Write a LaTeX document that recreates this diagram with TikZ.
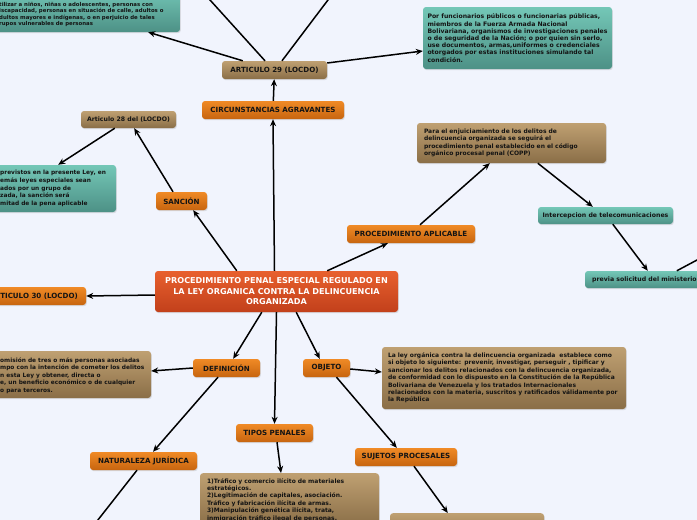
\documentclass[tikz,border=0pt]{standalone}
\usepackage{fontspec}
\setmainfont{DejaVu Sans}
\usetikzlibrary{arrows.meta,shadows}
\definecolor{bg}{HTML}{F1F4FD}
\definecolor{oT}{HTML}{F08A26}
\definecolor{oB}{HTML}{C7650F}
\definecolor{brT}{HTML}{BFA072}
\definecolor{brB}{HTML}{8A6E47}
\definecolor{tT}{HTML}{74C7B7}
\definecolor{tB}{HTML}{4D9186}
\definecolor{rT}{HTML}{E8602E}
\definecolor{rB}{HTML}{C2401B}
\definecolor{ink}{HTML}{141414}
\newcommand\fLab{\fontsize{7.1}{8}\selectfont\bfseries}
\newcommand\fBl{\fontsize{6.2}{7}\selectfont\bfseries}
\newcommand\fSm{\fontsize{6.0}{7.4}\selectfont\bfseries}
\newcommand\fRt{\fontsize{6.15}{7.2}\selectfont\bfseries}
\newcommand\fTl{\fontsize{5.4}{6.45}\selectfont\bfseries}
\newcommand\fLt{\fontsize{5.85}{7.6}\selectfont\bfseries}
\newcommand\fCtr{\fontsize{8.1}{10.5}\selectfont\bfseries}
\tikzset{
  box/.style={rounded corners=3pt, inner sep=0pt, text=ink,
    drop shadow={opacity=0.22, shadow xshift=0.8pt, shadow yshift=-1.2pt}},
  obox/.style={box, top color=oT, bottom color=oB, minimum height=18pt, font=\fLab},
  brbox/.style={box, top color=brT, bottom color=brB},
  tbox/.style={box, top color=tT, bottom color=tB},
  blab/.style={brbox, minimum height=18pt, font=\fBl},
  tlab/.style={tbox, minimum height=17pt, font=\fBl},
  cbox/.style={box, top color=rT, bottom color=rB, text=white, font=\fCtr, align=center},
  txt/.style={inner sep=0pt, align=left, text=ink},
  arr/.style={-{Stealth[length=7pt,width=6pt]}, line width=1.5pt, black},
  ln/.style={line width=1.5pt, black}
}
\begin{document}
\begin{tikzpicture}[x=1pt,y=-1pt]
\useasboundingbox[fill=bg] (0,0) rectangle (697,520);

% top-left teal box (clipped)
\node[tbox, minimum width=220pt, minimum height=44pt] (tl) at (70,10) {};
\node[txt, font=\fTl, anchor=west] (tltxt) at (-1,14.5) {tilizar a niños, niñas o adolescentes, personas con\\iscapacidad, personas en situación de calle, adultos o\\dultos mayores e indígenas, o en perjuicio de tales\\rupos vulnerables de personas};

\node[brbox, minimum height=18pt, font=\fLab, minimum width=105pt] (art29) at (274.5,70) {ARTICULO 29 (LOCDO)};

\node[tbox, inner xsep=4pt, minimum width=189pt, minimum height=62pt, align=left, font=\fRt] (rt) at (517.5,38) {Por funcionarios públicos o funcionarias públicas,\\miembros de la Fuerza Armada Nacional\\Bolivariana, organismos de investigaciones penales\\o de seguridad de la Nación; o por quien sin serlo,\\use documentos, armas,uniformes o credenciales\\otorgados por estas instituciones simulando tal\\condición.};

\node[obox, minimum width=142pt] (circ) at (273,110) {CIRCUNSTANCIAS AGRAVANTES};

\node[cbox, minimum width=243pt, minimum height=41pt] (center) at (276.5,291.5) {PROCEDIMIENTO PENAL ESPECIAL REGULADO EN\\LA LEY ORGANICA CONTRA LA DELINCUENCIA\\ORGANIZADA};

\node[obox, minimum width=51pt] (sancion) at (181.5,201) {SANCIÓN};
\node[blab, minimum width=95pt, minimum height=17pt] (art28) at (128.5,119.5) {Articulo 28 del (LOCDO)};

\node[tbox, minimum width=176pt, minimum height=47pt] (lt) at (28,188.5) {};
\node[txt, font=\fLt, anchor=west] (lttxt) at (0,188.5) {previstos en la presente Ley, en\\emás leyes especiales sean\\ados por un grupo de\\zada, la sanción será\\mitad de la pena aplicable};

\node[obox, minimum width=126pt] (art30) at (23,296) {};
\node[txt, font=\fLab, anchor=east] (art30txt) at (78,296) {TICULO 30 (LOCDO)};

\node[obox, minimum width=67pt] (def) at (226.5,368) {DEFINICIÓN};
\node[brbox, minimum width=211pt, minimum height=47pt] (defbox) at (45.5,374.5) {};
\node[txt, font=\fLt, anchor=west] (deftxt) at (0,375.5) {omisión de tres o más personas asociadas\\mpo con la intención de cometer los delitos\\n esta Ley y obtener, directa o\\e, un beneficio económico o de cualquier\\o para terceros.};

\node[obox, minimum width=107pt] (nat) at (143.5,461) {NATURALEZA JURÍDICA};
\node[obox, minimum width=77pt] (tipos) at (274.5,433) {TIPOS PENALES};
\node[brbox, text width=165pt, inner xsep=7pt, inner ysep=5pt, anchor=north, align=left, font=\fSm] (tiposbox) at (289.5,473) {1)Tráfico y comercio ilícito de materiales\\estratégicos.\\2)Legitimación de capitales, asociación.\\Tráfico y fabricación ilícita de armas.\\3)Manipulación genética ilícita, trata,\\inmigración tráfico ilegal de personas.};

\node[obox, minimum width=47pt] (objeto) at (326.5,368) {OBJETO};
\node[brbox, text width=232pt, inner xsep=6pt, minimum height=62pt, align=left, font=\fSm] (objbox) at (504,378) {La ley orgánica contra la delincuencia organizada\ \ establece como\\si objeto lo siguiente: prevenir, investigar, perseguir , tipificar y\\sancionar los delitos relacionados con la delincuencia organizada,\\de conformidad con lo dispuesto en la Constitución de la República\\Bolivariana de Venezuela y los tratados Internacionales\\relacionados con la materia, suscritos y ratificados válidamente por\\la República};

\node[obox, minimum width=102pt] (suj) at (406,457) {SUJETOS PROCESALES};
\node[brbox, minimum width=154pt, minimum height=30pt, anchor=north] (botbox) at (467,513) {};

\node[obox, minimum width=128pt] (proc) at (411,234) {PROCEDIMIENTO APLICABLE};
\node[brbox, text width=175pt, inner xsep=7pt, minimum height=40pt, align=left, font=\fSm] (copp) at (511.5,143) {Para el enjuiciamiento de los delitos de\\delincuencia organizada se seguirá el\\procedimiento penal establecido en el código\\orgánico procesal penal (COPP)};

\node[tlab, minimum width=135pt] (inter) at (605.5,215.5) {Intercepcion de telecomunicaciones};
\node[tbox, minimum width=155pt, minimum height=17pt] (previa) at (662.5,279.5) {};
\node[txt, font=\fBl, anchor=west] (previatxt) at (592,279.5) {previa solicitud del ministerio p};

% free ends
\coordinate (up1) at (204.6,-6);
\coordinate (up2) at (332.5,-6);
\coordinate (dn1) at (91.6,528);
\coordinate (rt1) at (712,252);

% connectors
\draw[arr] ([xshift=21pt]art29.north west) -- ([xshift=-32pt]tl.south east);
\draw[ln] ([xshift=-9.5pt]art29.north) -- (up1);
\draw[ln] ([xshift=7.5pt]art29.north) -- (up2);
\draw[arr] ([yshift=7pt]art29.east) -- ([yshift=-13pt]rt.west);
\draw[arr] (circ) -- (art29);
\draw[arr] ([xshift=-2pt]center.north) -- (circ.south);
\draw[arr] ([xshift=82pt]center.north west) -- ([xshift=-14pt]sancion.south east);
\draw[arr] ([xshift=-8.5pt]sancion.north) -- ([xshift=-42pt]art28.south east);
\draw[arr] ([xshift=34pt]art28.south west) -- ([xshift=-58pt]lt.north east);
\draw[arr] ([yshift=-3.5pt]center.west) -- (art30.east);
\draw[arr] ([xshift=107pt]center.south west) -- ([xshift=-27pt]def.north east);
\draw[arr] (def.west) -- ([yshift=3.5pt]defbox.east);
\draw[arr] ([xshift=-8.5pt]def.south) -- ([xshift=9.5pt]nat.north);
\draw[ln] ([xshift=-6.5pt]nat.south) -- (dn1);
\draw[arr] (center.south) -- (tipos.north);
\draw[arr] ([xshift=2.5pt]tipos.south) -- ([xshift=-8.5pt]tiposbox.north);
\draw[arr] ([xshift=-102pt]center.south east) -- ([xshift=17pt]objeto.north west);
\draw[arr] ([yshift=-1pt]objeto.east) -- ([yshift=6pt]objbox.west);
\draw[arr] ([xshift=10pt]objeto.south) -- ([xshift=42pt]suj.north west);
\draw[arr] ([xshift=8pt]suj.south) -- ([xshift=58pt]botbox.north west);
\draw[arr] ([xshift=-71pt]center.north east) -- ([xshift=41pt]proc.south west);
\draw[arr] ([xshift=9pt]proc.north) -- ([xshift=73pt]copp.south west);
\draw[arr] ([xshift=121pt]copp.south west) -- ([xshift=55pt]inter.north west);
\draw[arr] ([xshift=75pt]inter.south west) -- ([xshift=63pt]previa.north west);
\draw[ln] ([xshift=92pt]previa.north west) -- (rt1);
\end{tikzpicture}
\end{document}
